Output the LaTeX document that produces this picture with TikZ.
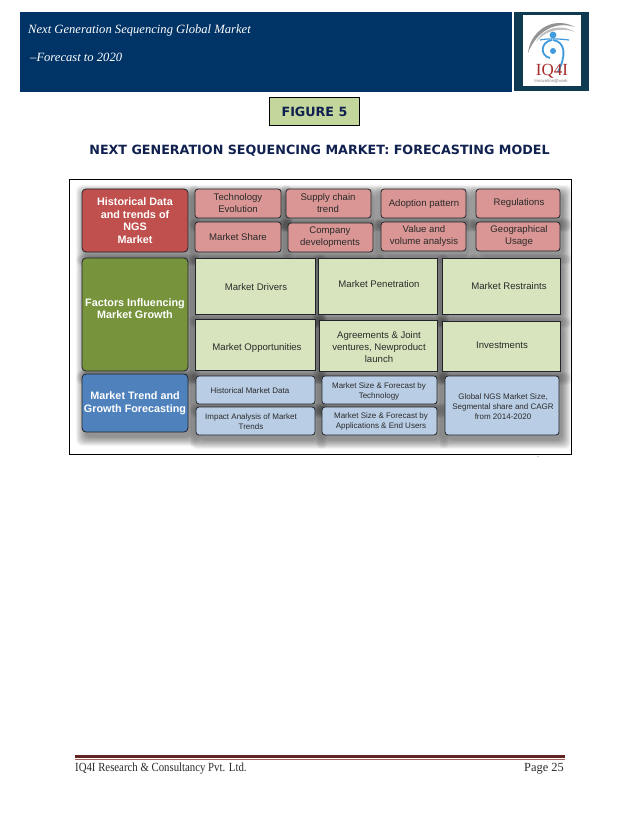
\documentclass[tikz,border=0pt]{standalone}
\usepackage{fontspec}
\setmainfont{Liberation Sans}
\newfontfamily\hdfont{DejaVu Sans}
\newfontfamily\cmb{Liberation Serif}
\newfontfamily\cmbn[FakeStretch=0.87]{Liberation Serif}
\usetikzlibrary{backgrounds}
\definecolor{navy}{HTML}{003366}
\definecolor{teal}{HTML}{0E3B52}
\definecolor{figgreen}{HTML}{C3D69B}
\definecolor{hdtext}{HTML}{10204F}
\definecolor{edge}{HTML}{20242A}
\definecolor{redb}{HTML}{C0504D}
\definecolor{pinkb}{HTML}{D99694}
\definecolor{greenb}{HTML}{77933C}
\definecolor{lgreenb}{HTML}{D7E4BD}
\definecolor{blueb}{HTML}{4F81BD}
\definecolor{lblueb}{HTML}{B9CDE5}
\definecolor{ruledark}{HTML}{622423}
\definecolor{rulelight}{HTML}{A0605E}
\definecolor{inktxt}{HTML}{2A2A2A}
\definecolor{logoblue}{HTML}{3F9BDC}
\definecolor{logored}{HTML}{A82A2A}
\tikzset{
  boxbase/.style={draw=edge,line width=0.8pt,rounded corners=3pt,inner sep=0pt,outer sep=0pt},
  big/.style={boxbase,rounded corners=4pt},
  square/.style={draw=edge,line width=0.8pt,inner sep=0pt,outer sep=0pt},
  redfill/.style={big,fill=redb},
  pinkfill/.style={boxbase,fill=pinkb},
  greenfill/.style={big,fill=greenb},
  lgfill/.style={square,fill=lgreenb},
  bluefill/.style={big,fill=blueb},
  lbfill/.style={boxbase,fill=lblueb},
  biglabel/.style={font=\fontsize{10.8}{12.6}\selectfont\bfseries,text=white,align=center,inner sep=0pt},
  midlabel/.style={font=\fontsize{9.6}{12}\selectfont,text=inktxt,align=center,inner sep=0pt},
  smalllabel/.style={font=\fontsize{8}{10}\selectfont,text=inktxt,align=center,inner sep=0pt},
}
% \bx{name}{x1}{y1}{x2}{y2}{style}
\newcommand{\bx}[6]{%
  \begin{pgfonlayer}{background}
    \foreach \s in {0,...,15}{%
      \fill[black,opacity=0.03,rounded corners=6pt]
        ({#2+3-(15-\s)*0.6},{#3+5-(15-\s)*0.6}) rectangle ({#4+3+(15-\s)*0.6},{#5+5+(15-\s)*0.6});
    }
  \end{pgfonlayer}
  \pgfmathsetmacro{\bw}{#4-#2}\pgfmathsetmacro{\bh}{#5-#3}
  \node[#6,minimum width=\bw pt,minimum height=\bh pt] (#1) at ({(#2+#4)/2},{(#3+#5)/2}) {};
}
\begin{document}
\begin{tikzpicture}[x=1pt,y=-1pt]
\useasboundingbox (0,0) rectangle (638,826);
% header
\node[fill=navy,minimum width=492pt,minimum height=80pt,inner sep=0pt,outer sep=0pt] (hdr) at (266,52) {};
\node[fill=teal,minimum width=75pt,minimum height=79pt,inner sep=0pt,outer sep=0pt] (logopanel) at (551.5,51.5) {};
\node[fill=white,minimum width=58pt,minimum height=71pt,inner sep=0pt,outer sep=0pt] (logowhite) at (552,51) {};
\node[anchor=west,inner sep=0pt,text=white,font=\cmb\itshape\fontsize{12.6}{14}\selectfont] (hd1) at (28,30) {Next Generation Sequencing Global Market};
\node[anchor=west,inner sep=0pt,text=white,font=\cmb\itshape\fontsize{12.6}{14}\selectfont] (hd2) at (30,57) {–Forecast to 2020};
% logo
\fill[gray!85] (528,53) .. controls (530,32) and (552,15) .. (575,27) .. controls (556,21) and (537,30) .. (528,53);
\fill[gray!50] (536,42) .. controls (543,28) and (560,23) .. (575,32) .. controls (560,27) and (546,30) .. (536,42);
\fill[logoblue] (553,35) circle (3.4);
\fill[logoblue] (553,51) circle (3);
\draw[logoblue,line width=1.8pt] (552,40) .. controls (540,42) and (540,56) .. (550,58);
\draw[logoblue,line width=1.8pt] (553,40) .. controls (566,42) and (566,56) .. (558,72);
\draw[logoblue,line width=1.2pt] (540,40) .. controls (550,38) and (560,39) .. (569,40);
\node[inner sep=0pt,text=logored,font=\cmb\fontsize{17}{17}\selectfont] (logotxt) at (552,71) {IQ4I};
\node[inner sep=0pt,text=gray,font=\fontsize{4.3}{5}\selectfont] (logotag) at (551,81) {Innovation@work};
% figure box
\node[draw=black,line width=1pt,fill=figgreen,minimum width=90pt,minimum height=28pt,inner sep=0pt,text=hdtext,font=\hdfont\bfseries\fontsize{12.7}{14}\selectfont] (fig) at (314.5,112) {FIGURE 5};
\node[inner sep=0pt,text=hdtext,font=\hdfont\bfseries\fontsize{12.7}{14}\selectfont] (title) at (319.5,151) {NEXT GENERATION SEQUENCING MARKET: FORECASTING MODEL};
% frame
\begin{pgfonlayer}{background}
\node[draw=black,fill=white,line width=0.8pt,minimum width=502pt,minimum height=275pt,inner sep=0pt,outer sep=0pt] (frame) at (320,316.5) {};
\end{pgfonlayer}
% boxes
\bx{hist}{82}{189}{188}{252}{redfill}
\bx{tech}{195}{189}{281}{218}{pinkfill}
\bx{share}{195}{222}{281}{252}{pinkfill}
\bx{supply}{286}{189}{371}{218}{pinkfill}
\bx{comp}{288}{223}{373}{252}{pinkfill}
\bx{adopt}{381}{189}{466}{218}{pinkfill}
\bx{value}{381}{222}{466}{251}{pinkfill}
\bx{regs}{476}{189}{560}{218}{pinkfill}
\bx{geo}{476}{222}{560}{251}{pinkfill}
\bx{fact}{82}{258}{188}{371}{greenfill}
\bx{drive}{195}{258}{315}{314}{lgfill}
\bx{pene}{318}{258}{437}{314}{lgfill}
\bx{restr}{442}{258}{560}{314}{lgfill}
\bx{oppo}{195}{319}{315}{370}{lgfill}
\bx{agree}{319}{320}{437}{371}{lgfill}
\bx{inv}{442}{321}{560}{371}{lgfill}
\bx{trend}{82}{374}{188}{432}{bluefill}
\bx{hmd}{196}{376}{315}{404}{lbfill}
\bx{impact}{196}{407}{315}{435}{lbfill}
\bx{stech}{322}{376}{437}{404}{lbfill}
\bx{sapp}{322}{407}{437}{435}{lbfill}
\bx{glob}{445}{376}{559}{435}{lbfill}
% labels
\node[biglabel] (thist) at (135,220.5) {Historical Data\\and trends of\\NGS\\Market};
\node[biglabel] (tfact) at (135,308.5) {Factors Influencing\\Market Growth};
\node[biglabel] (ttrend) at (135,403) {Market Trend and\\Growth Forecasting};
\node[midlabel] (ttech) at (238,203) {Technology\\Evolution};
\node[midlabel] (tshare) at (238,237) {Market Share};
\node[midlabel] (tsupply) at (328,203.5) {Supply chain\\trend};
\node[midlabel] (tcomp) at (330,237.5) {Company\\developments};
\node[midlabel] (tadopt) at (424,204) {Adoption pattern};
\node[midlabel] (tvalue) at (424,236.5) {Value and\\volume analysis};
\node[midlabel] (tregs) at (519,203.5) {Regulations};
\node[midlabel] (tgeo) at (519,236.5) {Geographical\\Usage};
\node[midlabel] (tdrive) at (256,287) {Market Drivers};
\node[midlabel] (tpene) at (379,284) {Market Penetration};
\node[midlabel] (trestr) at (509,286) {Market Restraints};
\node[midlabel] (toppo) at (257,348.5) {Market Opportunities};
\node[midlabel] (tagree) at (379,347) {Agreements \& Joint\\ventures, Newproduct\\launch};
\node[midlabel] (tinv) at (502,345.5) {Investments};
\node[smalllabel] (thmd) at (250,391) {Historical Market Data};
\node[smalllabel] (timpact) at (251,421.5) {Impact Analysis of Market\\Trends};
\node[smalllabel] (tstech) at (379,391) {Market Size \& Forecast by\\Technology};
\node[smalllabel] (tsapp) at (381,421) {Market Size \& Forecast by\\Applications \& End Users};
\node[smalllabel] (tglob) at (503,407) {Global NGS Market Size,\\Segmental share and CAGR\\from 2014-2020};
\node[inner sep=0pt,text=gray,font=\fontsize{6}{6}\selectfont] (dot) at (538,458) {-};
% footer
\fill[ruledark] (75,755) rectangle (565,758);
\fill[rulelight] (75,759) rectangle (565,760);
\node[anchor=west,inner sep=0pt,text=inktxt,font=\cmbn\fontsize{12.4}{14}\selectfont] (foot) at (75,768.5) {IQ4I Research \& Consultancy Pvt. Ltd.};
\node[anchor=east,inner sep=0pt,text=inktxt,font=\cmb\fontsize{12.4}{14}\selectfont] (page) at (564,768.5) {Page 25};
\end{tikzpicture}
\end{document}
